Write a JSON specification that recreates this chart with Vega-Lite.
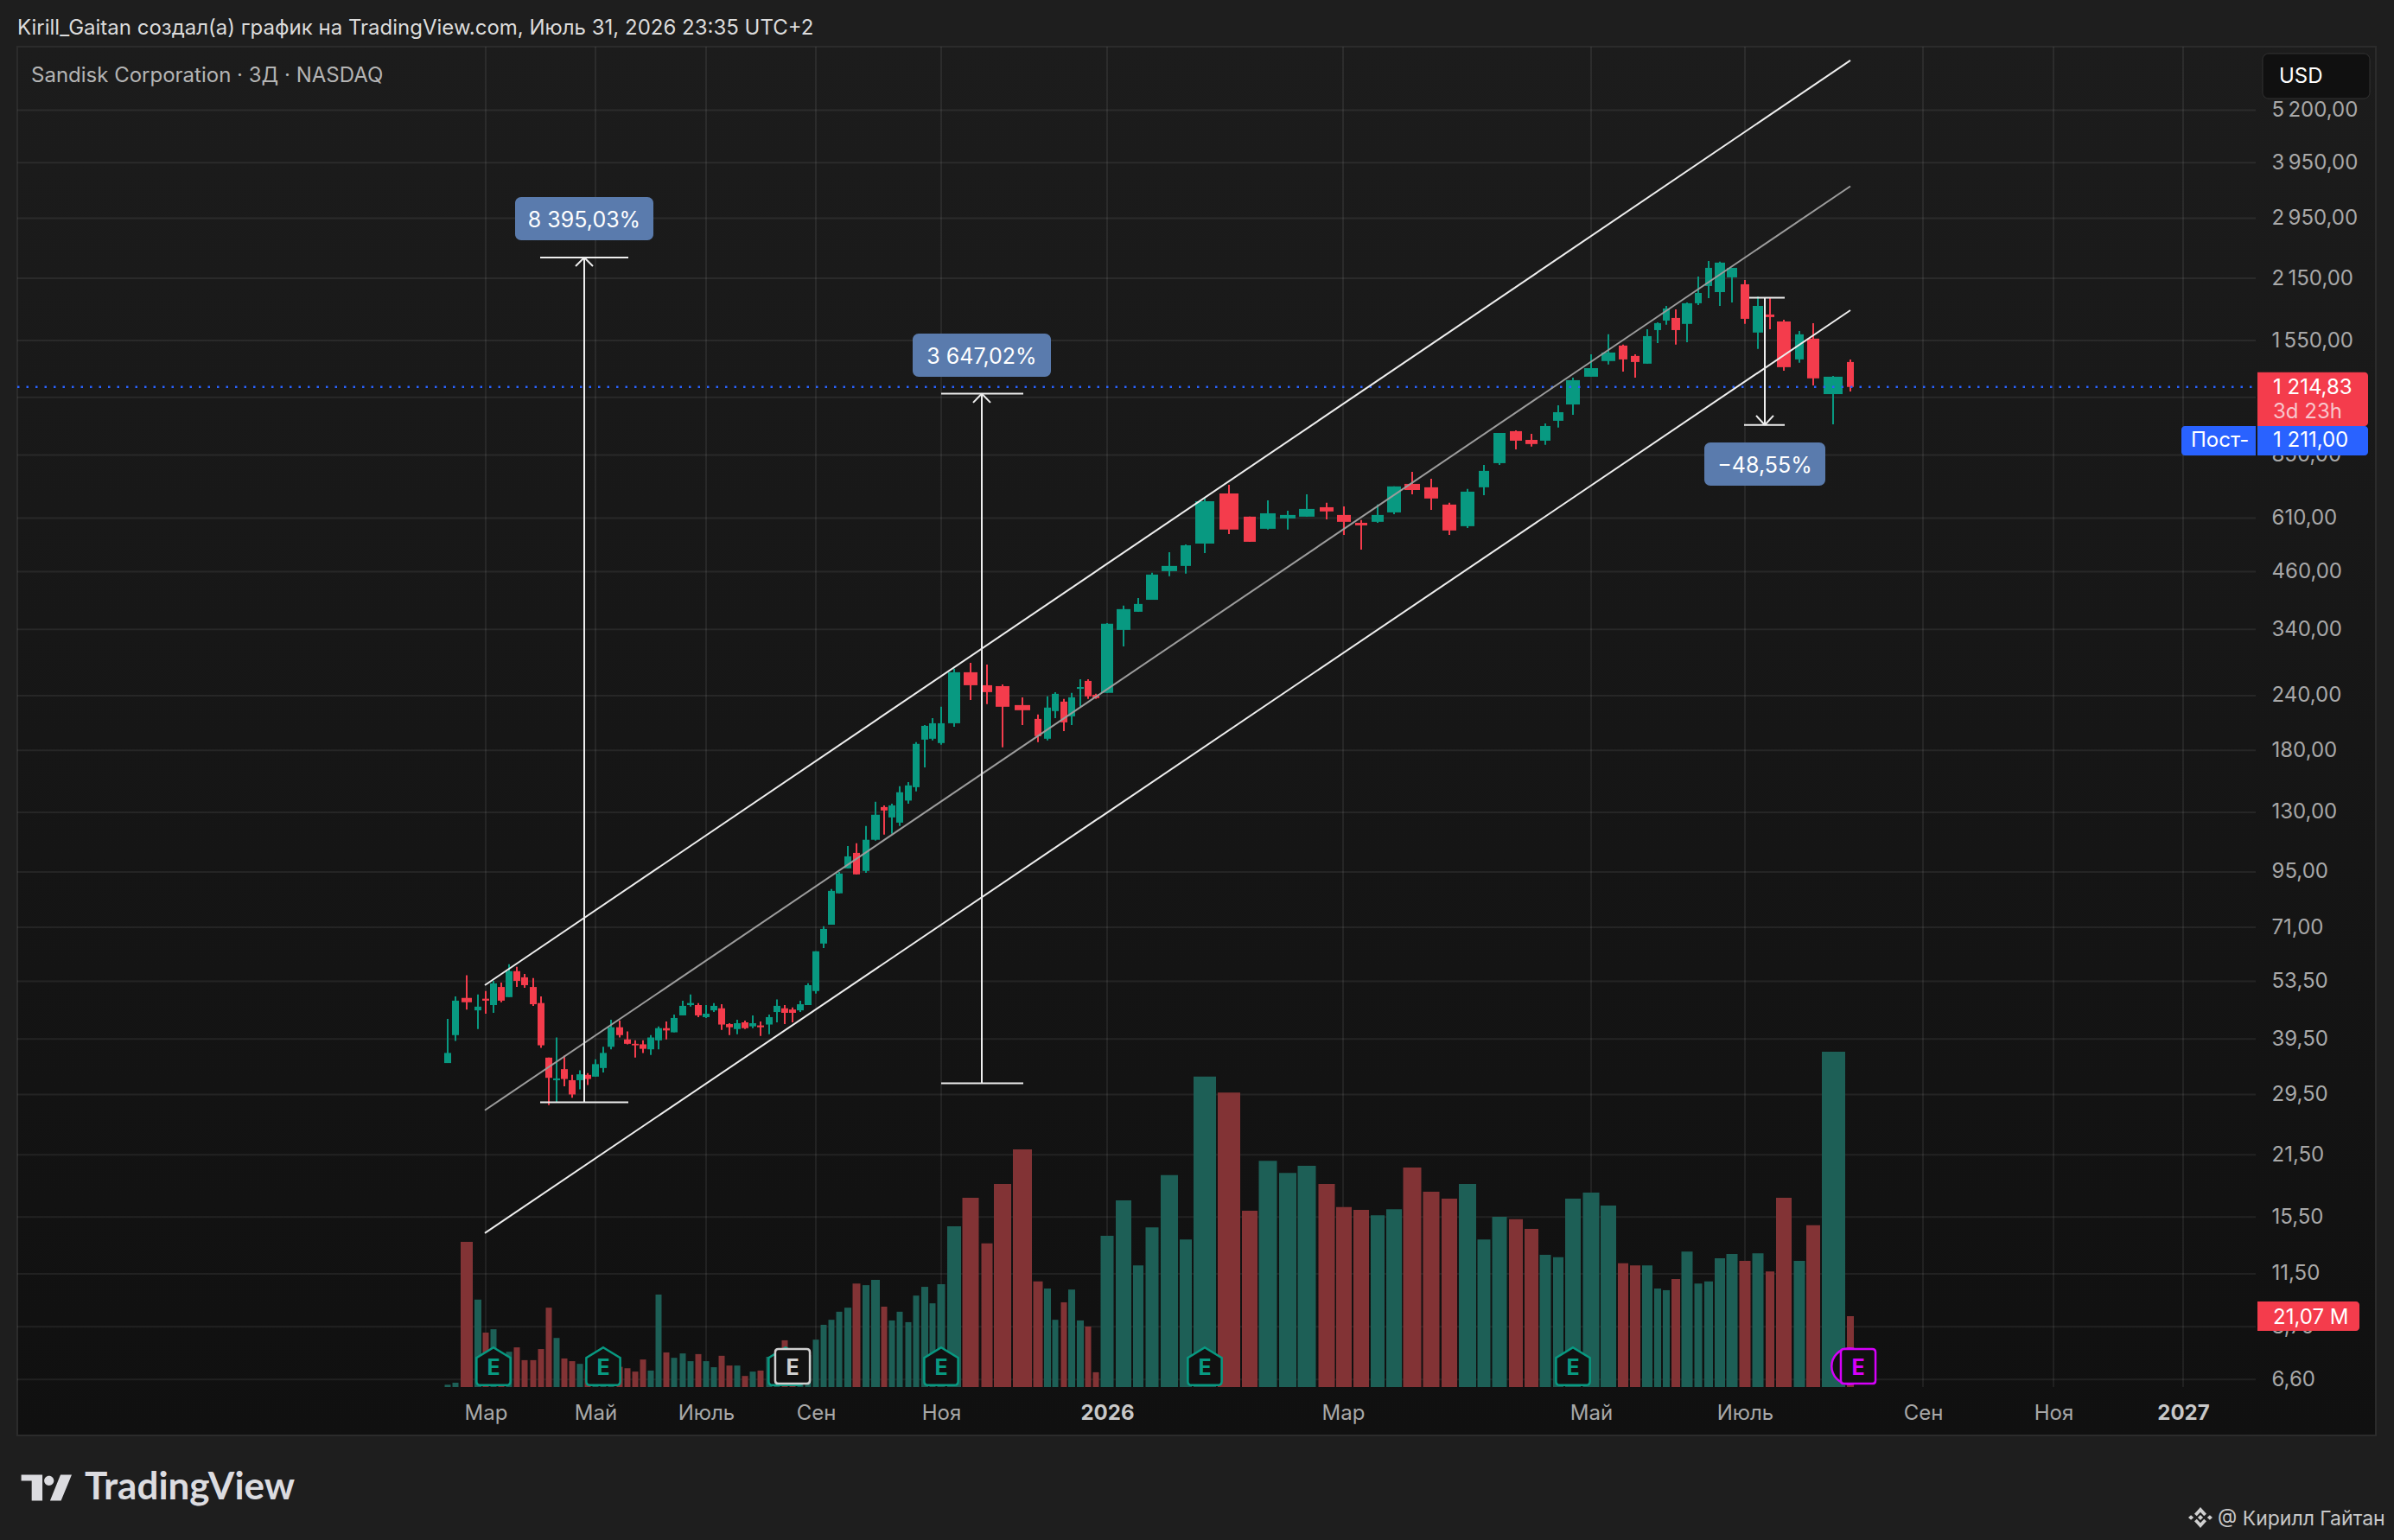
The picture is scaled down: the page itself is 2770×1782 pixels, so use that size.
{
  "$schema": "https://vega.github.io/schema/vega-lite/v6.json",
  "width": 2729,
  "height": 1607,
  "autosize": "none",
  "padding": {"left": 20, "top": 54, "right": 21, "bottom": 121},
  "background": "#1e1e1e",
  "view": {
    "fill": {"gradient": "linear", "x1": 0, "y1": 0, "x2": 0, "y2": 1, "stops": [{"offset": 0, "color": "#1c1c1c"}, {"offset": 1, "color": "#101010"}]},
    "stroke": "#2b2b2b",
    "strokeWidth": 2
  },
  "title": {
    "text": "Kirill_Gaitan создал(а) график на TradingView.com, Июль 31, 2026 23:35 UTC+2",
    "anchor": "start",
    "frame": "group",
    "font": "Inter",
    "fontSize": 24,
    "fontWeight": 400,
    "color": "#dcdcdc",
    "offset": 8
  },
  "config": {"text": {"font": "Inter"}},
  "datasets": {
    "gridY": [{"p": 5200}, {"p": 3950}, {"p": 2950}, {"p": 2150}, {"p": 1550}, {"p": 1150}, {"p": 850}, {"p": 610}, {"p": 460}, {"p": 340}, {"p": 240}, {"p": 180}, {"p": 130}, {"p": 95}, {"p": 71}, {"p": 53.5}, {"p": 39.5}, {"p": 29.5}, {"p": 21.5}, {"p": 15.5}, {"p": 11.5}, {"p": 8.7}, {"p": 6.6}],
    "gridX": [{"t": 562}, {"t": 689}, {"t": 817}, {"t": 944}, {"t": 1089}, {"t": 1281}, {"t": 1554}, {"t": 1841}, {"t": 2019}, {"t": 2225}, {"t": 2376}, {"t": 2526}],
    "candles": [
      {"c":518,"b0":514,"b1":522,"v0":514.5,"v1":521.5,"open":34.8,"high":43.9,"low":34.8,"close":36.7,"vol":0.69},
      {"c":527,"b0":523,"b1":531,"v0":523.5,"v1":530.5,"open":40.3,"high":49.4,"low":39.1,"close":48.3,"vol":1.29},
      {"c":540,"b0":534,"b1":546,"v0":533,"v1":547,"open":49.0,"high":55.2,"low":46.1,"close":47.9,"vol":43.2},
      {"c":553,"b0":549,"b1":557,"v0":549,"v1":557,"open":45.9,"high":49.9,"low":41.6,"close":46.8,"vol":26},
      {"c":562,"b0":558,"b1":566,"v0":558.5,"v1":565.5,"open":48.8,"high":50.8,"low":45.1,"close":48.3,"vol":16.2},
      {"c":571,"b0":567,"b1":575,"v0":567.5,"v1":574.5,"open":47.2,"high":53.6,"low":45.3,"close":52.9,"vol":17.2},
      {"c":580,"b0":576,"b1":584,"v0":576.5,"v1":583.5,"open":51.9,"high":53.1,"low":47.9,"close":48.3,"vol":8},
      {"c":589,"b0":585,"b1":593,"v0":585.5,"v1":592.5,"open":49.2,"high":58.5,"low":49.2,"close":56.4,"vol":10.5},
      {"c":598,"b0":594,"b1":602,"v0":594.5,"v1":601.5,"open":56.4,"high":57.7,"low":51.9,"close":53.6,"vol":11.8},
      {"c":607,"b0":603,"b1":611,"v0":603.5,"v1":610.5,"open":54.6,"high":55.6,"low":51.7,"close":52.4,"vol":8},
      {"c":617,"b0":613,"b1":621,"v0":613.5,"v1":620.5,"open":51.9,"high":54.4,"low":47.0,"close":47.4,"vol":8},
      {"c":626,"b0":622,"b1":630,"v0":622.5,"v1":629.5,"open":47.7,"high":49.4,"low":37.7,"close":38.2,"vol":11.3},
      {"c":635,"b0":631,"b1":639,"v0":631.5,"v1":638.5,"open":35.8,"high":35.8,"low":27.9,"close":32.2,"vol":23.6},
      {"c":644,"b0":640,"b1":648,"v0":640.5,"v1":647.5,"open":31.8,"high":39.8,"low":28.3,"close":32.1,"vol":14.6},
      {"c":653,"b0":649,"b1":657,"v0":649.5,"v1":656.5,"open":33.7,"high":36.2,"low":30.8,"close":32.0,"vol":8.5},
      {"c":662,"b0":658,"b1":666,"v0":658.5,"v1":665.5,"open":31.8,"high":32.7,"low":29.0,"close":29.5,"vol":7.7},
      {"c":671,"b0":667,"b1":675,"v0":667.5,"v1":674.5,"open":31.8,"high":33.5,"low":30.3,"close":32.8,"vol":6.9},
      {"c":680,"b0":676,"b1":684,"v0":676.5,"v1":683.5,"open":32.7,"high":33.0,"low":31.0,"close":32.0,"vol":5.1},
      {"c":689,"b0":685,"b1":693,"v0":685.5,"v1":692.5,"open":32.4,"high":35.5,"low":32.4,"close":34.6,"vol":4.7},
      {"c":698,"b0":694,"b1":702,"v0":694.5,"v1":701.5,"open":33.9,"high":37.9,"low":33.1,"close":36.7,"vol":4.5},
      {"c":707,"b0":703,"b1":711,"v0":703.5,"v1":710.5,"open":37.9,"high":43.7,"low":37.4,"close":42.0,"vol":5},
      {"c":717,"b0":713,"b1":721,"v0":713.5,"v1":720.5,"open":42.0,"high":43.5,"low":39.8,"close":40.3,"vol":6},
      {"c":726,"b0":722,"b1":730,"v0":722.5,"v1":729.5,"open":39.4,"high":41.1,"low":38.4,"close":38.5,"vol":5.6},
      {"c":735,"b0":731,"b1":739,"v0":731.5,"v1":738.5,"open":38.5,"high":39.2,"low":35.8,"close":38.2,"vol":4.6},
      {"c":744,"b0":740,"b1":748,"v0":740.5,"v1":747.5,"open":38.4,"high":39.2,"low":36.7,"close":37.5,"vol":8.2},
      {"c":753,"b0":749,"b1":757,"v0":749.5,"v1":756.5,"open":37.4,"high":40.3,"low":36.3,"close":39.8,"vol":4.9},
      {"c":762,"b0":758,"b1":766,"v0":758.5,"v1":765.5,"open":39.2,"high":42.2,"low":37.4,"close":41.8,"vol":27.5},
      {"c":771,"b0":767,"b1":775,"v0":767.5,"v1":774.5,"open":41.8,"high":43.3,"low":39.4,"close":41.3,"vol":10.3},
      {"c":780,"b0":776,"b1":784,"v0":776.5,"v1":783.5,"open":40.9,"high":44.9,"low":40.9,"close":44.1,"vol":8.7},
      {"c":790,"b0":786,"b1":794,"v0":786.5,"v1":793.5,"open":44.7,"high":48.3,"low":44.7,"close":47.0,"vol":10},
      {"c":799,"b0":795,"b1":803,"v0":795.5,"v1":802.5,"open":47.2,"high":49.9,"low":46.8,"close":47.7,"vol":7.7},
      {"c":808,"b0":804,"b1":812,"v0":804.5,"v1":811.5,"open":47.2,"high":47.7,"low":44.3,"close":44.7,"vol":9.8},
      {"c":817,"b0":813,"b1":821,"v0":813.5,"v1":820.5,"open":44.3,"high":47.2,"low":44.1,"close":45.1,"vol":7.7},
      {"c":826,"b0":822,"b1":830,"v0":822.5,"v1":829.5,"open":45.9,"high":47.7,"low":45.5,"close":47.0,"vol":5.9},
      {"c":835,"b0":831,"b1":839,"v0":831.5,"v1":838.5,"open":46.4,"high":47.4,"low":41.4,"close":42.6,"vol":9.3},
      {"c":844,"b0":840,"b1":848,"v0":840.5,"v1":847.5,"open":42.7,"high":42.9,"low":40.3,"close":42.0,"vol":6.4},
      {"c":853,"b0":849,"b1":857,"v0":849.5,"v1":856.5,"open":41.6,"high":43.7,"low":40.5,"close":42.9,"vol":6.4},
      {"c":862,"b0":858,"b1":866,"v0":858.5,"v1":865.5,"open":43.1,"high":43.5,"low":41.6,"close":41.8,"vol":3.3},
      {"c":871,"b0":867,"b1":875,"v0":867.5,"v1":874.5,"open":42.2,"high":44.7,"low":41.8,"close":42.9,"vol":4.6},
      {"c":880,"b0":876,"b1":884,"v0":876.5,"v1":883.5,"open":42.4,"high":43.3,"low":40.1,"close":42.0,"vol":4.9},
      {"c":890,"b0":886,"b1":894,"v0":886.5,"v1":893.5,"open":42.6,"high":44.9,"low":40.5,"close":44.3,"vol":9},
      {"c":899,"b0":895,"b1":903,"v0":895.5,"v1":902.5,"open":45.5,"high":48.6,"low":43.1,"close":47.0,"vol":5.5},
      {"c":908,"b0":904,"b1":912,"v0":904.5,"v1":911.5,"open":46.4,"high":47.2,"low":42.7,"close":45.3,"vol":13.9},
      {"c":917,"b0":913,"b1":921,"v0":913.5,"v1":920.5,"open":46.1,"high":46.6,"low":43.1,"close":45.3,"vol":8},
      {"c":926,"b0":922,"b1":930,"v0":922.5,"v1":929.5,"open":45.9,"high":48.3,"low":45.5,"close":47.4,"vol":7.2},
      {"c":935,"b0":931,"b1":939,"v0":931.5,"v1":938.5,"open":47.2,"high":52.9,"low":47.2,"close":52.4,"vol":9.5},
      {"c":944,"b0":940,"b1":948,"v0":940.5,"v1":947.5,"open":50.8,"high":62.6,"low":50.1,"close":62.6,"vol":14.1},
      {"c":953,"b0":949,"b1":957,"v0":949.5,"v1":956.5,"open":65.2,"high":71.4,"low":63.7,"close":70.4,"vol":18.5},
      {"c":962,"b0":958,"b1":966,"v0":958.5,"v1":965.5,"open":72.0,"high":86.8,"low":72.0,"close":86.0,"vol":20},
      {"c":971,"b0":967,"b1":975,"v0":967.5,"v1":974.5,"open":84.9,"high":95.0,"low":84.9,"close":94.2,"vol":22.4},
      {"c":981,"b0":977,"b1":985,"v0":977,"v1":985,"open":96.8,"high":108.9,"low":96.8,"close":103.1,"vol":23.6},
      {"c":991,"b0":987,"b1":995,"v0":986.5,"v1":995.5,"open":105.0,"high":110.4,"low":93.8,"close":93.8,"vol":30.8},
      {"c":1002,"b0":998,"b1":1006,"v0":998,"v1":1006,"open":95.5,"high":120.9,"low":94.6,"close":112.5,"vol":30.3},
      {"c":1013,"b0":1008,"b1":1018,"v0":1008,"v1":1018,"open":112.5,"high":137.3,"low":112,"close":128.3,"vol":31.9},
      {"c":1023,"b0":1019,"b1":1027,"v0":1019.5,"v1":1026.5,"open":133.6,"high":134.8,"low":115.6,"close":131.2,"vol":23.9},
      {"c":1032,"b0":1028,"b1":1036,"v0":1028.5,"v1":1035.5,"open":126.5,"high":136,"low":116.1,"close":134.8,"vol":19.8},
      {"c":1041,"b0":1037,"b1":1045,"v0":1037.5,"v1":1044.5,"open":123.1,"high":149,"low":120.9,"close":144.4,"vol":22.4},
      {"c":1051,"b0":1047,"b1":1055,"v0":1047.5,"v1":1054.5,"open":138.2,"high":152.4,"low":136,"close":149.7,"vol":19.3},
      {"c":1060,"b0":1056,"b1":1064,"v0":1056.5,"v1":1063.5,"open":148.3,"high":187.9,"low":145,"close":186.2,"vol":27.2},
      {"c":1070,"b0":1066,"b1":1074,"v0":1066,"v1":1074,"open":190.4,"high":205.6,"low":164.6,"close":204.7,"vol":29.8},
      {"c":1079,"b0":1075,"b1":1083,"v0":1075.5,"v1":1082.5,"open":191.3,"high":213.2,"low":189.6,"close":207.5,"vol":24.9},
      {"c":1089,"b0":1085,"b1":1093,"v0":1084.5,"v1":1093.5,"open":187,"high":226.3,"low":185.3,"close":207.5,"vol":30.6},
      {"c":1104,"b0":1097,"b1":1111,"v0":1096,"v1":1112,"open":207.5,"high":276.3,"low":203.8,"close":271.3,"vol":47.8},
      {"c":1123,"b0":1115,"b1":1131,"v0":1113.5,"v1":1132.5,"open":271.3,"high":285,"low":234.6,"close":253.4,"vol":56.3},
      {"c":1142,"b0":1136,"b1":1148,"v0":1135.5,"v1":1148.5,"open":253.4,"high":282.6,"low":229.4,"close":244.4,"vol":42.7},
      {"c":1160,"b0":1152,"b1":1168,"v0":1150,"v1":1170,"open":252.2,"high":254.5,"low":182.8,"close":226.3,"vol":60.4},
      {"c":1183,"b0":1174,"b1":1192,"v0":1172,"v1":1194,"open":228.3,"high":237.8,"low":205.6,"close":222.2,"vol":70.7},
      {"c":1201,"b0":1197,"b1":1205,"v0":1195.5,"v1":1206.5,"open":212.3,"high":217.2,"low":187.9,"close":193.9,"vol":31.4},
      {"c":1212,"b0":1208,"b1":1216,"v0":1208,"v1":1216,"open":191.3,"high":239,"low":189.6,"close":225.3,"vol":29.3},
      {"c":1221,"b0":1217,"b1":1225,"v0":1217.5,"v1":1224.5,"open":221.2,"high":244.4,"low":213.2,"close":242.2,"vol":20},
      {"c":1231,"b0":1227,"b1":1235,"v0":1227.5,"v1":1234.5,"open":232.5,"high":235.7,"low":199.2,"close":208.5,"vol":25.2},
      {"c":1240,"b0":1236,"b1":1244,"v0":1236,"v1":1244,"open":215.2,"high":243.3,"low":205.6,"close":237.8,"vol":29},
      {"c":1250,"b0":1246,"b1":1254,"v0":1246,"v1":1254,"open":248.6,"high":261.6,"low":226.3,"close":251,"vol":19.8},
      {"c":1259,"b0":1255,"b1":1263,"v0":1255.5,"v1":1262.5,"open":259.2,"high":261.6,"low":235.7,"close":239,"vol":18},
      {"c":1268,"b0":1264,"b1":1272,"v0":1264.5,"v1":1271.5,"open":241,"high":242.2,"low":235.7,"close":236.8,"vol":4.4},
      {"c":1281,"b0":1274,"b1":1288,"v0":1273.5,"v1":1288.5,"open":243.3,"high":351.4,"low":243.3,"close":349.9,"vol":45},
      {"c":1300,"b0":1292,"b1":1308,"v0":1291,"v1":1309,"open":338.9,"high":384.9,"low":310.9,"close":378,"vol":55.5},
      {"c":1317,"b0":1312,"b1":1322,"v0":1311,"v1":1323,"open":372.8,"high":400.9,"low":372.8,"close":388.4,"vol":36.2},
      {"c":1333,"b0":1326,"b1":1340,"v0":1325.5,"v1":1340.5,"open":397,"high":457.4,"low":397,"close":453.3,"vol":47.5},
      {"c":1353,"b0":1344,"b1":1362,"v0":1343,"v1":1363,"open":461.5,"high":510,"low":449.2,"close":474.3,"vol":63},
      {"c":1372,"b0":1366,"b1":1378,"v0":1365,"v1":1379,"open":474.3,"high":531.2,"low":455.4,"close":528.7,"vol":43.9},
      {"c":1394,"b0":1383,"b1":1405,"v0":1381,"v1":1407,"open":533.7,"high":676,"low":507.7,"close":666.7,"vol":92.3},
      {"c":1422,"b0":1411,"b1":1433,"v0":1409,"v1":1435,"open":694.5,"high":726.8,"low":561,"close":574,"vol":87.6},
      {"c":1446,"b0":1439,"b1":1453,"v0":1437,"v1":1455,"open":614.5,"high":614.5,"low":538.5,"close":538.5,"vol":52.4},
      {"c":1467,"b0":1458,"b1":1476,"v0":1456.5,"v1":1477.5,"open":576.6,"high":669.8,"low":574,"close":625.5,"vol":67.3},
      {"c":1490,"b0":1481,"b1":1499,"v0":1480,"v1":1500,"open":608.8,"high":634.2,"low":574,"close":620,"vol":63.7},
      {"c":1512,"b0":1503,"b1":1521,"v0":1501.5,"v1":1522.5,"open":614.5,"high":691,"low":614.5,"close":640,"vol":65.8},
      {"c":1535,"b0":1527,"b1":1543,"v0":1525.5,"v1":1544.5,"open":645.7,"high":660.8,"low":606,"close":631.6,"vol":60.4},
      {"c":1555,"b0":1547,"b1":1563,"v0":1546,"v1":1564,"open":620,"high":648.7,"low":558.4,"close":598,"vol":53.5},
      {"c":1575,"b0":1568,"b1":1582,"v0":1566,"v1":1584,"open":595,"high":603.4,"low":517,"close":587,"vol":52.7},
      {"c":1594,"b0":1587,"b1":1601,"v0":1586,"v1":1602,"open":598,"high":654.8,"low":595,"close":620,"vol":51.1},
      {"c":1613,"b0":1605,"b1":1621,"v0":1604,"v1":1622,"open":628.4,"high":720.4,"low":622.7,"close":720.4,"vol":52.9},
      {"c":1634,"b0":1625,"b1":1643,"v0":1623.5,"v1":1644.5,"open":730,"high":778,"low":691,"close":707,"vol":65.3},
      {"c":1656,"b0":1648,"b1":1664,"v0":1646.5,"v1":1665.5,"open":717,"high":749.5,"low":637,"close":676,"vol":58.1},
      {"c":1677,"b0":1669,"b1":1685,"v0":1668,"v1":1686,"open":654.8,"high":660.8,"low":558.4,"close":571.4,"vol":56},
      {"c":1698,"b0":1690,"b1":1706,"v0":1688,"v1":1708,"open":584.5,"high":710.6,"low":579,"close":700.8,"vol":60.4},
      {"c":1717,"b0":1711,"b1":1723,"v0":1709.5,"v1":1724.5,"open":717,"high":806.4,"low":688,"close":781.6,"vol":43.9},
      {"c":1735,"b0":1728,"b1":1742,"v0":1726.5,"v1":1743.5,"open":814,"high":954,"low":806.4,"close":954,"vol":50.6},
      {"c":1754,"b0":1747,"b1":1761,"v0":1746,"v1":1762,"open":963,"high":967.4,"low":875.5,"close":916,"vol":49.9},
      {"c":1772,"b0":1765,"b1":1779,"v0":1764,"v1":1780,"open":920,"high":950,"low":888,"close":900,"vol":47},
      {"c":1788,"b0":1782,"b1":1794,"v0":1781.5,"v1":1794.5,"open":916,"high":1003,"low":896,"close":989.5,"vol":39.3},
      {"c":1803,"b0":1797,"b1":1809,"v0":1797,"v1":1809,"open":1017,"high":1103,"low":981,"close":1064,"vol":38.6},
      {"c":1820,"b0":1812,"b1":1828,"v0":1811,"v1":1829,"open":1108,"high":1276,"low":1050,"close":1259,"vol":56},
      {"c":1841,"b0":1833,"b1":1849,"v0":1831.5,"v1":1850.5,"open":1282,"high":1443,"low":1282,"close":1341,"vol":57.8},
      {"c":1861,"b0":1853,"b1":1869,"v0":1852,"v1":1870,"open":1392,"high":1602,"low":1367,"close":1456,"vol":54},
      {"c":1878,"b0":1873,"b1":1883,"v0":1872,"v1":1884,"open":1510,"high":1517,"low":1317,"close":1404,"vol":36.8},
      {"c":1892,"b0":1887,"b1":1897,"v0":1886,"v1":1898,"open":1430,"high":1443,"low":1276,"close":1385,"vol":36.2},
      {"c":1906,"b0":1901,"b1":1911,"v0":1900,"v1":1912,"open":1373,"high":1646,"low":1373,"close":1587,"vol":36.2},
      {"c":1918,"b0":1914,"b1":1922,"v0":1914,"v1":1922,"open":1638,"high":1707,"low":1530,"close":1699,"vol":29.3},
      {"c":1928,"b0":1924,"b1":1932,"v0":1924,"v1":1932,"open":1722,"high":1860,"low":1684,"close":1835,"vol":28.8},
      {"c":1939,"b0":1934,"b1":1944,"v0":1934,"v1":1944,"open":1746,"high":1827,"low":1517,"close":1638,"vol":32.1},
      {"c":1952,"b0":1946,"b1":1958,"v0":1945.5,"v1":1958.5,"open":1692,"high":1894,"low":1536,"close":1886,"vol":40.3},
      {"c":1965,"b0":1961,"b1":1969,"v0":1960.5,"v1":1969.5,"open":1886,"high":2171,"low":1869,"close":1991,"vol":30.8},
      {"c":1977,"b0":1973,"b1":1981,"v0":1972,"v1":1982,"open":2065,"high":2356,"low":1938,"close":2272,"vol":31.4},
      {"c":1990,"b0":1984,"b1":1996,"v0":1984,"v1":1996,"open":2000,"high":2346,"low":1860,"close":2335,"vol":38.3},
      {"c":2004,"b0":1998,"b1":2010,"v0":1997.5,"v1":2010.5,"open":2161,"high":2272,"low":1894,"close":2272,"vol":39.6},
      {"c":2019,"b0":2014,"b1":2024,"v0":2012.5,"v1":2025.5,"open":2084,"high":2132,"low":1692,"close":1738,"vol":37.5},
      {"c":2034,"b0":2028,"b1":2040,"v0":2027.5,"v1":2040.5,"open":1617,"high":1955,"low":1483,"close":1860,"vol":39.8},
      {"c":2048,"b0":2043,"b1":2053,"v0":2043,"v1":2053,"open":1778,"high":1946,"low":1646,"close":1754,"vol":34.4},
      {"c":2064,"b0":2056,"b1":2072,"v0":2055,"v1":2073,"open":1714,"high":1730,"low":1323,"close":1348,"vol":56.3},
      {"c":2082,"b0":2077,"b1":2087,"v0":2075.5,"v1":2088.5,"open":1404,"high":1631,"low":1379,"close":1602,"vol":37.5},
      {"c":2098,"b0":2091,"b1":2105,"v0":2090,"v1":2106,"open":1566,"high":1699,"low":1225,"close":1271,"vol":48.1},
      {"c":2121,"b0":2110,"b1":2132,"v0":2108,"v1":2135,"open":1170,"high":1288,"low":998,"close":1282,"vol":99.7},
      {"c":2141,"b0":2137,"b1":2145,"v0":2137,"v1":2145,"open":1385,"high":1404,"low":1186,"close":1214.83,"vol":21.07}
    ],
    "lines": [
      {"t0":561,"t1":2141,"p0":52.4,"p1":6756,"kind":"channel"},
      {"t0":561,"t1":2141,"p0":27.15,"p1":3489,"kind":"mid"},
      {"t0":561,"t1":2141,"p0":14.24,"p1":1818,"kind":"channel"},
      {"t0":676,"t1":676,"p0":28.3,"p1":2399,"kind":"measure"},
      {"t0":625,"t1":727,"p0":2399,"p1":2399,"kind":"measure"},
      {"t0":625,"t1":727,"p0":28.3,"p1":28.3,"kind":"measure"},
      {"t0":666,"t1":676,"p0":2292,"p1":2399,"kind":"measure"},
      {"t0":686,"t1":676,"p0":2292,"p1":2399,"kind":"measure"},
      {"t0":1136,"t1":1136,"p0":31.3,"p1":1173,"kind":"measure"},
      {"t0":1089,"t1":1184,"p0":1173,"p1":1173,"kind":"measure"},
      {"t0":1089,"t1":1184,"p0":31.3,"p1":31.3,"kind":"measure"},
      {"t0":1126,"t1":1136,"p0":1119,"p1":1173,"kind":"measure"},
      {"t0":1146,"t1":1136,"p0":1119,"p1":1173,"kind":"measure"},
      {"t0":2042,"t1":2042,"p0":1941,"p1":995,"kind":"measure"},
      {"t0":2024,"t1":2065,"p0":1941,"p1":1941,"kind":"measure"},
      {"t0":2018,"t1":2065,"p0":995,"p1":995,"kind":"measure"},
      {"t0":2032,"t1":2042,"p0":1045,"p1":995,"kind":"measure"},
      {"t0":2052,"t1":2042,"p0":1045,"p1":995,"kind":"measure"}
    ],
    "boxes": [
      {"t0":596,"t1":756,"p0":3296,"p1":2627,"kind":"measure"},
      {"t0":1056,"t1":1216,"p0":1609,"p1":1282,"kind":"measure"},
      {"t0":1972,"t1":2112,"p0":907.7,"p1":723,"kind":"measure"},
      {"t0":2618,"t1":2742,"p0":7005,"p1":5530,"kind":"currency"}
    ],
    "tagBoxes": [
      {"t0":2612,"t1":2740,"p0":1312,"p1":989.7,"kind":"last"},
      {"t0":2612,"t1":2740,"p0":989.7,"p1":848,"kind":"post"},
      {"t0":2612,"t1":2730,"p0":9.945,"p1":8.52,"kind":"last"}
    ],
    "postBox": [
      {"t0":2524,"t1":2610,"p0":989.7,"p1":848,"kind":"post"}
    ],
    "chips": [
      {"t":676,"p":2943,"label":"8 395,03%"},
      {"t":1136,"p":1436,"label":"3 647,02%"},
      {"t":2042,"p":810,"label":"−48,55%"}
    ],
    "notes": [
      {"t":36,"p":6290,"label":"Sandisk Corporation · 3Д · NASDAQ","role":"symbol"},
      {"t":2637,"p":6256,"label":"USD","role":"tag"},
      {"t":2630,"p":1220,"label":"1 214,83","role":"tag"},
      {"t":2630,"p":1074,"label":"3d 23h","role":"timer"},
      {"t":2535,"p":924.5,"label":"Пост-","role":"tag"},
      {"t":2630,"p":924.5,"label":"1 211,00","role":"tag"},
      {"t":2630,"p":9.206,"label":"21,07 M","role":"tag"}
    ],
    "events": [
      {"t":571,"p":7.07,"kind":"earnings","sym":"house"},
      {"t":698,"p":7.07,"kind":"earnings","sym":"house"},
      {"t":909,"p":7.07,"kind":"earnings","sym":"house"},
      {"t":917,"p":7.07,"kind":"split","sym":"square"},
      {"t":1089,"p":7.07,"kind":"earnings","sym":"house"},
      {"t":1394,"p":7.07,"kind":"earnings","sym":"house"},
      {"t":1820,"p":7.07,"kind":"earnings","sym":"house"},
      {"t":2140,"p":7.07,"kind":"next","sym":"circle"},
      {"t":2150,"p":7.07,"kind":"next","sym":"square"}
    ]
  },
  "layer": [
    {
      "layer": [
        {
          "data": {"name": "gridY"},
          "mark": {"type": "rule", "color": "#ffffff", "opacity": 0.07, "strokeWidth": 2},
          "encoding": {
            "x": {
              "datum": 20,
              "type": "quantitative",
              "scale": {"domain": [20, 2749], "nice": false, "zero": false},
              "axis": {
                "orient": "bottom",
                "offset": -56,
                "title": null,
                "values": [562, 689, 817, 944, 1089, 1281, 1554, 1841, 2019, 2225, 2376, 2526],
                "labelExpr": "{'562':'Мар','689':'Май','817':'Июль','944':'Сен','1089':'Ноя','1281':'2026','1554':'Мар','1841':'Май','2019':'Июль','2225':'Сен','2376':'Ноя','2526':'2027'}[''+datum.value]",
                "labelFont": "Inter",
                "labelFontSize": 24,
                "labelColor": {"condition": {"test": "datum.value==1281||datum.value==2526", "value": "#c8c8c8"}, "value": "#a8a8a8"},
                "labelFontWeight": {"condition": {"test": "datum.value==1281||datum.value==2526", "value": "bold"}, "value": "normal"},
                "labelPadding": 18,
                "labelOverlap": false,
                "labelBound": false,
                "labelFlush": false,
                "grid": false,
                "ticks": false,
                "domain": false
              }
            },
            "x2": {"datum": 2610},
            "y": {
              "field": "p",
              "type": "quantitative",
              "scale": {"type": "log", "domain": [4.917, 7263.6], "nice": false},
              "axis": {
                "orient": "right",
                "offset": -139,
                "title": null,
                "values": [5200, 3950, 2950, 2150, 1550, 1150, 850, 610, 460, 340, 240, 180, 130, 95, 71, 53.5, 39.5, 29.5, 21.5, 15.5, 11.5, 8.7, 6.6],
                "labelExpr": "replace(replace(format(datum.value, ',.2f'), ',', '\u2009'), '.', ',')",
                "labelFont": "Inter",
                "labelFontSize": 24,
                "labelColor": "#a8a8a8",
                "labelPadding": 18,
                "labelAlign": "left",
                "labelBaseline": "middle",
                "labelOverlap": false,
                "labelBound": false,
                "labelFlush": false,
                "grid": false,
                "ticks": false,
                "domain": false
              }
            }
          }
        },
        {
          "data": {"name": "gridX"},
          "mark": {"type": "rule", "color": "#ffffff", "opacity": 0.07, "strokeWidth": 2},
          "encoding": {
            "x": {"field": "t", "type": "quantitative"},
            "y": {"datum": 7263.6, "type": "quantitative", "scale": {"type": "log", "domain": [4.917, 7263.6], "nice": false}},
            "y2": {"datum": 6.34}
          }
        }
      ]
    },
    {
      "data": {"name": "candles"},
      "mark": {"type": "rect"},
      "encoding": {
        "x": {"field": "v0", "type": "quantitative"},
        "x2": {"field": "v1"},
        "y": {"field": "vol", "type": "quantitative", "scale": {"domain": [-14.39, 398.6], "nice": false, "zero": false}, "axis": null},
        "y2": {"datum": 0},
        "color": {"condition": {"test": "datum.close>=datum.open", "value": "#1d5f56"}, "value": "#823335"}
      }
    },
    {
      "layer": [
        {
          "data": {"name": "candles"},
          "mark": {"type": "rule", "strokeWidth": 2},
          "encoding": {
            "x": {"field": "c", "type": "quantitative"},
            "y": {"field": "low", "type": "quantitative", "scale": {"type": "log", "domain": [4.917, 7263.6], "nice": false}, "axis": null},
            "y2": {"field": "high"},
            "color": {"condition": {"test": "datum.close>=datum.open", "value": "#089981"}, "value": "#f43c4c"}
          }
        },
        {
          "data": {"name": "candles"},
          "mark": {"type": "rect"},
          "encoding": {
            "x": {"field": "b0", "type": "quantitative"},
            "x2": {"field": "b1"},
            "y": {"field": "open", "type": "quantitative"},
            "y2": {"field": "close"},
            "color": {"condition": {"test": "datum.close>=datum.open", "value": "#089981"}, "value": "#f43c4c"}
          }
        },
        {
          "data": {"values": [{"t0": 20, "t1": 2610, "price": 1214.83}]},
          "mark": {"type": "rule", "color": "#2962ff", "strokeWidth": 2.5, "strokeDash": [2.5, 8]},
          "encoding": {
            "x": {"field": "t0", "type": "quantitative"},
            "x2": {"field": "t1"},
            "y": {"field": "price", "type": "quantitative"}
          }
        },
        {
          "data": {"name": "lines"},
          "mark": {"type": "rule", "strokeWidth": 2},
          "encoding": {
            "x": {"field": "t0", "type": "quantitative"},
            "x2": {"field": "t1"},
            "y": {"field": "p0", "type": "quantitative"},
            "y2": {"field": "p1"},
            "color": {"condition": {"test": "datum.kind=='mid'", "value": "#9c9c9c"}, "value": "#eeeeee"}
          }
        },
        {
          "data": {"name": "events"},
          "mark": {"type": "point", "filled": false, "fill": "#111111", "fillOpacity": 1, "strokeWidth": 2.5, "opacity": 1},
          "encoding": {
            "x": {"field": "t", "type": "quantitative"},
            "y": {"field": "p", "type": "quantitative"},
            "size": {"value": 1900},
            "shape": {
              "field": "sym",
              "type": "nominal",
              "legend": null,
              "scale": {
                "domain": ["house", "square", "circle"],
                "range": [
                  "M0 -1 L0.9 -0.45 V0.8 Q0.9 1 0.7 1 H-0.7 Q-0.9 1 -0.9 0.8 V-0.45 Z",
                  "M-0.75 -0.92 H0.75 Q0.92 -0.92 0.92 -0.75 V0.75 Q0.92 0.92 0.75 0.92 H-0.75 Q-0.92 0.92 -0.92 0.75 V-0.75 Q-0.92 -0.92 -0.75 -0.92 Z",
                  "M-0.95 0 A0.95 0.95 0 1 0 0.95 0 A0.95 0.95 0 1 0 -0.95 0 Z"
                ]
              }
            },
            "stroke": {
              "field": "kind",
              "type": "nominal",
              "legend": null,
              "scale": {"domain": ["earnings", "split", "next"], "range": ["#089981", "#d0d0d0", "#d500f9"]}
            },
            "order": {"field": "t"}
          }
        },
        {
          "data": {"name": "events"},
          "transform": [{"filter": "datum.t!=909 && datum.t!=2140"}],
          "mark": {"type": "text", "text": "E", "font": "Inter", "fontSize": 25, "fontWeight": "bold", "align": "center", "baseline": "middle", "dy": 2},
          "encoding": {
            "x": {"field": "t", "type": "quantitative"},
            "y": {"field": "p", "type": "quantitative"},
            "color": {
              "field": "kind",
              "type": "nominal",
              "legend": null,
              "scale": {"domain": ["earnings", "split", "next", "measure", "currency", "last", "post"], "range": ["#089981", "#d0d0d0", "#d500f9", "#5a7bad", "#101010", "#f43c4c", "#2962ff"]}
            }
          }
        },
        {
          "data": {"name": "boxes"},
          "mark": {"type": "rect", "cornerRadius": 7},
          "encoding": {
            "x": {"field": "t0", "type": "quantitative"},
            "x2": {"field": "t1"},
            "y": {"field": "p0", "type": "quantitative"},
            "y2": {"field": "p1"},
            "color": {"field": "kind", "type": "nominal", "legend": null},
            "stroke": {"condition": {"test": "datum.kind=='currency'", "value": "#333333"}, "value": null}
          }
        },
        {
          "data": {"name": "tagBoxes"},
          "mark": {"type": "rect", "cornerRadiusTopRight": 4, "cornerRadiusBottomRight": 4},
          "encoding": {
            "x": {"field": "t0", "type": "quantitative"},
            "x2": {"field": "t1"},
            "y": {"field": "p0", "type": "quantitative"},
            "y2": {"field": "p1"},
            "color": {"field": "kind", "type": "nominal", "legend": null}
          }
        },
        {
          "data": {"name": "postBox"},
          "mark": {"type": "rect", "cornerRadiusTopLeft": 4, "cornerRadiusBottomLeft": 4},
          "encoding": {
            "x": {"field": "t0", "type": "quantitative"},
            "x2": {"field": "t1"},
            "y": {"field": "p0", "type": "quantitative"},
            "y2": {"field": "p1"},
            "color": {"field": "kind", "type": "nominal", "legend": null}
          }
        },
        {
          "data": {"name": "chips"},
          "mark": {"type": "text", "font": "Inter", "fontSize": 25, "align": "center", "baseline": "middle", "color": "#ffffff", "dy": 2},
          "encoding": {
            "x": {"field": "t", "type": "quantitative"},
            "y": {"field": "p", "type": "quantitative"},
            "text": {"field": "label"}
          }
        },
        {
          "data": {"name": "notes"},
          "mark": {"type": "text", "font": "Inter", "fontSize": 24, "align": "left", "baseline": "middle", "dy": 2},
          "encoding": {
            "x": {"field": "t", "type": "quantitative"},
            "y": {"field": "p", "type": "quantitative"},
            "text": {"field": "label"},
            "fill": {
              "field": "role",
              "type": "nominal",
              "legend": null,
              "scale": {"domain": ["symbol", "tag", "timer"], "range": ["#b4b4b4", "#ffffff", "#f8c6cc"]}
            }
          }
        },
        {
          "data": {"values": [{"t": 2566, "p": 3.194, "label": "@ Кирилл Гайтан"}]},
          "mark": {"type": "text", "font": "Inter", "fontSize": 23, "align": "left", "baseline": "middle", "color": "#c8c8c8", "dy": 2},
          "encoding": {
            "x": {"field": "t", "type": "quantitative"},
            "y": {"field": "p", "type": "quantitative"},
            "text": {"field": "label"}
          }
        },
        {
          "data": {"values": [{"t": 98, "p": 3.72, "label": "TradingView"}]},
          "mark": {"type": "text", "font": "Lato", "fontSize": 44, "fontWeight": "bold", "align": "left", "baseline": "middle", "color": "#dcdce0"},
          "encoding": {
            "x": {"field": "t", "type": "quantitative"},
            "y": {"field": "p", "type": "quantitative"},
            "text": {"field": "label"}
          }
        },
        {
          "data": {"values": [{"t": 53.5, "p": 3.735, "name": "logo"}]},
          "mark": {"type": "point", "filled": true, "opacity": 1, "color": "#dcdce0", "size": 3481, "shape": "M-0.98 -0.51 H-0.15 V0.51 H-0.57 V-0.27 H-0.98 Z M-0.08 -0.28 A0.19 0.19 0 1 0 0.30 -0.28 A0.19 0.19 0 1 0 -0.08 -0.28 Z M0.56 -0.51 H1 L0.58 0.51 H0.15 Z"},
          "encoding": {
            "x": {"field": "t", "type": "quantitative"},
            "y": {"field": "p", "type": "quantitative"}
          }
        },
        {
          "data": {"values": [{"t": 2546, "p": 3.194, "name": "badge"}]},
          "mark": {"type": "point", "filled": true, "opacity": 1, "color": "#cfcfcf", "size": 784, "shape": "M-0.5 -0.3 L0 -0.85 L0.5 -0.3 L0.3 -0.12 L0 -0.45 L-0.3 -0.12 Z M-0.5 0.3 L0 0.85 L0.5 0.3 L0.3 0.12 L0 0.45 L-0.3 0.12 Z M-1 0 L-0.78 -0.2 L-0.56 0 L-0.78 0.2 Z M1 0 L0.78 -0.2 L0.56 0 L0.78 0.2 Z M-0.22 0 L0 -0.22 L0.22 0 L0 0.22 Z"},
          "encoding": {
            "x": {"field": "t", "type": "quantitative"},
            "y": {"field": "p", "type": "quantitative"}
          }
        }
      ]
    }
  ],
  "resolve": {"scale": {"y": "independent"}}
}
